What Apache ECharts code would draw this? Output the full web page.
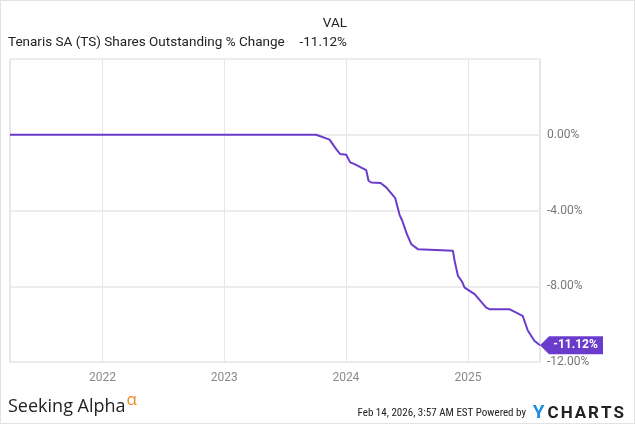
<!DOCTYPE html>
<html>
<head>
<meta charset="utf-8">
<script src="https://cdn.jsdelivr.net/npm/echarts@6/dist/echarts.min.js"></script>
<style>
  html, body { margin: 0; padding: 0; background: #fff; }
  #chart { position: absolute; left: 0; top: 0; width: 635px; height: 424px; }
  #frame { position: absolute; left: 0; top: 0; width: 633px; height: 422px; border: 1px solid #e2e2e2; pointer-events: none; }
</style>
</head>
<body>
<div id="chart"></div>
<div id="frame"></div>
<script>
// shares outstanding % change
const dates = [
  "2021-03-30", "2023-10-04", "2023-11-13", "2023-12-03", "2023-12-15", "2024-01-02",
  "2024-01-14", "2024-01-27", "2024-03-02", "2024-03-09", "2024-03-17", "2024-04-14",
  "2024-05-01", "2024-05-28", "2024-06-10", "2024-06-18", "2024-07-02", "2024-07-15",
  "2024-08-04", "2024-11-17", "2024-11-22", "2024-12-02", "2024-12-14", "2024-12-22",
  "2025-01-21", "2025-02-24", "2025-03-06", "2025-05-05", "2025-06-14", "2025-06-29",
  "2025-07-19", "2025-08-05"
];
const changePct = [
  0, 0, -0.26, -0.76, -1.02, -1.06,
  -1.46, -1.55, -1.87, -2.43, -2.52, -2.55,
  -2.78, -3.35, -4.23, -4.54, -5.25, -5.78,
  -6.04, -6.13, -6.66, -7.45, -7.75, -8.07,
  -8.42, -9.12, -9.21, -9.21, -9.56, -10.32,
  -10.88, -11.12
];
const yTicks = { min: -12, max: 4, interval: 4 };
const lastValue = changePct[changePct.length - 1];
const purple = "#6b3ccb";

const chart = echarts.init(document.getElementById("chart"), null, { renderer: "canvas" });
const seriesData = dates.map((d, i) => [d, changePct[i]]);
const fmt = v => v.toFixed(2) + "%";

chart.setOption({
  animation: false,
  textStyle: { fontFamily: "Roboto, sans-serif" },
  title: [
    { text: "Tenaris SA (TS) Shares Outstanding % Change", left: 3, top: 31,
      textStyle: { fontSize: 13.5, fontWeight: "normal", color: "#222" } },
    { text: "VAL", right: 283, top: 12,
      textStyle: { fontSize: 13.5, fontWeight: "normal", color: "#222" } },
    { text: fmt(lastValue), right: 283, top: 31,
      textStyle: { fontSize: 13.5, fontWeight: "normal", color: "#222" } },
    { text: "Seeking Alpha{a|α}", left: 3, top: 387,
      textStyle: { fontSize: 18, fontWeight: "normal", color: "#222", fontFamily: "'Open Sans', sans-serif",
        rich: { a: { fontSize: 17, color: "#f28a22", verticalAlign: "top", padding: [0, 0, 12, 1] } } } },
    { text: "Feb 14, 2026, 3:57 AM EST Powered by", right: 104, top: 403,
      textStyle: { fontSize: 11, fontWeight: "normal", color: "#222", fontFamily: "'Liberation Sans Narrow', 'Roboto Condensed', Roboto, sans-serif" } },
    { text: "{y|Y}{c|C}{c|H}{c|A}{c|R}{c|T}{c|S}", right: 6, top: 399,
      textStyle: { rich: {
        y: { fontSize: 19, fontWeight: "bold", color: "#1c8ce3", padding: [0, 2, 0, 0] },
        c: { fontSize: 17, fontWeight: "bold", color: "#222", padding: [0, 1, 0, 1] }
      } } }
  ],
  grid: { left: 10, right: 95, top: 59, bottom: 62, show: true, borderColor: "#cfcfcf", borderWidth: 1 },
  xAxis: {
    type: "time",
    min: "2021-03-30",
    max: "2025-08-05",
    minInterval: 365 * 24 * 3600 * 1000,
    maxInterval: 366 * 24 * 3600 * 1000,
    axisLine: { show: false },
    axisTick: { show: false },
    splitLine: { show: true, lineStyle: { color: "#e6e6e6", width: 1 } },
    axisLabel: { color: "#8a8a8a", fontSize: 12, margin: 10, formatter: "{yyyy}",
      showMinLabel: false, showMaxLabel: false }
  },
  yAxis: {
    type: "value",
    position: "right",
    min: yTicks.min,
    max: yTicks.max,
    interval: yTicks.interval,
    axisLine: { show: false },
    axisTick: { show: false },
    splitLine: { show: true, lineStyle: { color: "#ececec", width: 2 } },
    axisLabel: { color: "#777", fontSize: 12, margin: 7, padding: [0, 0, 10, 0],
      formatter: v => (v > 0 ? "" : fmt(v)) }
  },
  series: [{
    type: "line",
    data: seriesData,
    showSymbol: false,
    lineStyle: { color: purple, width: 2 },
    itemStyle: { color: purple },
    markPoint: {
      symbol: "path://M0,9L9,0L63,0L63,18L9,18Z",
      symbolSize: [63, 18],
      symbolOffset: [31.5, 0],
      itemStyle: { color: purple },
      label: { show: true, position: "inside", offset: [4, 0], color: "#fff",
        fontSize: 12, fontWeight: "bold", formatter: () => fmt(lastValue) },
      data: [{ coord: seriesData[seriesData.length - 1] }]
    }
  }]
});
</script>
</body>
</html>
